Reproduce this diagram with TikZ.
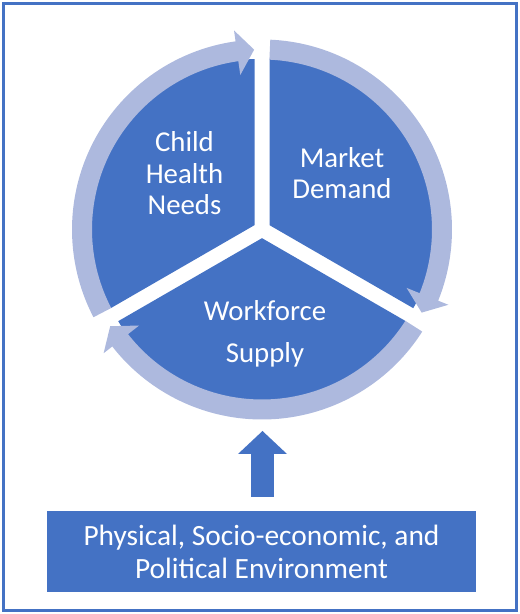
\documentclass[tikz,border=0pt]{standalone}
\usepackage{fontspec}
\setmainfont{Carlito}
\usetikzlibrary{arrows.meta}
\definecolor{pieblue}{HTML}{4472C4}
\definecolor{ringblue}{HTML}{ADB9DE}

\tikzset{slice/.style = {fill = pieblue},
         ring/.style = {fill = ringblue},
         caption/.style = {text = white, align = center, anchor = base,
                           font = \fontsize{28.8}{#1}\selectfont},
         caption/.default = 31.7,
         pics/ringarrow/.style args = {#1 to #2}{code = {
           \fill[ring] (#1:190) arc[start angle = #1, end angle = #2+5.5, radius = 190]
                 -- (#2+5.5:201) -- (#2:180) -- (#2+5.5:156) -- (#2+5.5:170)
                 arc[start angle = #2+5.5, end angle = #1, radius = 170] -- cycle;}}
        }

\begin{document}
\begin{tikzpicture}[x = 1pt, y = 1pt]
  \useasboundingbox (0,0) rectangle (520,614);
  \draw[pieblue, line width = 3pt] (3.5,3.5) rectangle (516.5,610.5);
  \coordinate (hub) at (262,384.5);
  \begin{scope}[shift = {(hub)}]
    % three slices, pushed apart
    \fill[slice, shift = {(150:8.66)}] (0,0) -- (90:166)
         arc[start angle = 90, end angle = 210, radius = 166] -- cycle;
    \fill[slice, shift = {(30:8.66)}] (0,0) -- (-30:166)
         arc[start angle = -30, end angle = 90, radius = 166] -- cycle;
    \fill[slice, shift = {(270:8.66)}] (0,0) -- (210:166)
         arc[start angle = 210, end angle = 330, radius = 166] -- cycle;
    % ring of arrows
    \pic {ringarrow = 207.5 to 92.5};
    \pic {ringarrow = 87.5 to -27.5};
    \pic {ringarrow = -32.5 to -147.5};
  \end{scope}
  \node[caption] (needs) at (184.5,399) {Child\\Health\\Needs};
  \node[caption] (demand) at (342,415) {Market\\Demand};
  \node[caption] (supply) at (265,251) {Workforce\\[11pt]Supply};
  \node[fill = pieblue, minimum width = 429, minimum height = 81, inner sep = 0,
        text = white, align = center, font = \fontsize{29.4}{33}\selectfont]
        (env) at (261.5,62.5) {Physical, Socio-economic, and\\Political Environment};
  \coordinate (inflow) at (262.5,183);
  \draw[pieblue, line width = 23pt,
        -{Triangle[width = 49pt, length = 23pt, line width = 0pt]}]
        ([yshift = 14pt]env.north -| inflow) -- (inflow);
\end{tikzpicture}
\end{document}
